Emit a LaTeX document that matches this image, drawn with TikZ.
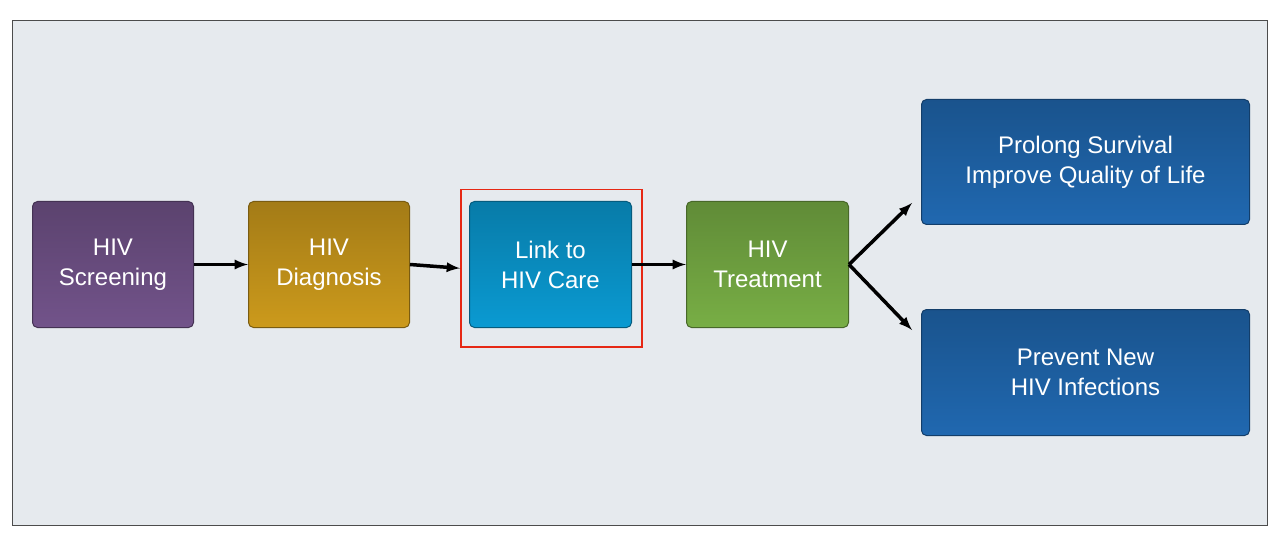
\documentclass[tikz,border=0pt]{standalone}
\usepackage{fontspec}
\setmainfont{Liberation Sans}
\begin{document}
\begin{tikzpicture}[x=1pt,y=-1pt,
 box/.style={rounded corners=5pt,draw=#1!60!black,line width=1pt,top color=#1!80!black,bottom color=#1,align=center,text=white,font=\fontsize{24}{30}\selectfont,anchor=north west,inner sep=0pt},
 arr/.style={-latex,line width=3.5pt,draw=black}]
\definecolor{cpur}{HTML}{72538A}
\definecolor{cgold}{HTML}{CC9A1C}
\definecolor{cblue}{HTML}{0A9AD2}
\definecolor{cgreen}{HTML}{78AE45}
\definecolor{cdark}{HTML}{2068B0}
\useasboundingbox (0,0) rectangle (1280,548);
\fill[white] (0,0) rectangle (1280,548);
\draw[fill={rgb,255:red,230;green,234;blue,238},draw=black!70,line width=0.8pt] (12,20) rectangle (1267,525);
\node[box=cpur,minimum width=161pt,minimum height=126pt] (a) at (32,201) {HIV\\Screening};
\node[box=cgold,minimum width=161pt,minimum height=126pt] (b) at (248,201) {HIV\\Diagnosis};
\node[box=cblue,minimum width=162pt,minimum height=126pt] (c) at (469,201) {Link to\\HIV Care};
\node[box=cgreen,minimum width=162pt,minimum height=126pt] (d) at (686,201) {HIV\\Treatment};
\node[box=cdark,minimum width=328pt,minimum height=125pt] (e) at (921,99) {Prolong Survival\\Improve Quality of Life};
\node[box=cdark,minimum width=328pt,minimum height=126pt] (f) at (921,309) {Prevent New\\HIV Infections};
\node[draw={rgb,255:red,230;green,40;blue,20},line width=1.5pt,minimum width=181pt,minimum height=157pt,anchor=north west,inner sep=0pt] (r) at (460,189) {};
\draw[arr] (a.east) -- (b.west);
\draw[arr] (b.east) -- (r.west);
\draw[arr] (c.east) -- (d.west);
\coordinate (t1) at (912,203);
\coordinate (t2) at (912,330);
\draw[arr] (d.east) -- (t1);
\draw[arr] (d.east) -- (t2);
\end{tikzpicture}
\end{document}
